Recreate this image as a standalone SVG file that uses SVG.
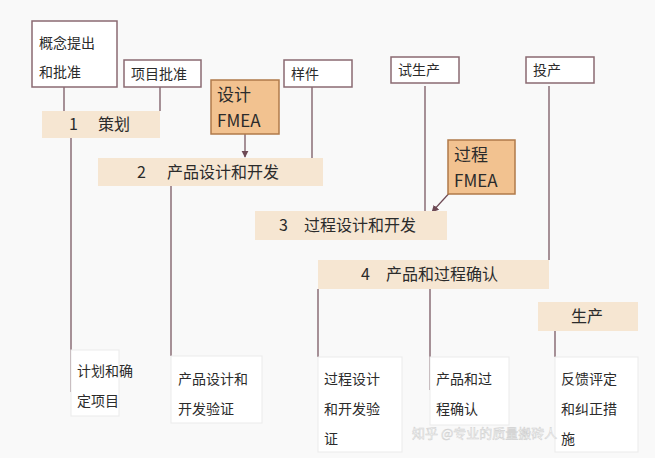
<svg xmlns="http://www.w3.org/2000/svg" width="655" height="458" viewBox="0 0 655 458">
<defs>
<style>
text{font-family:"Noto Sans CJK SC","Liberation Sans",sans-serif;fill:#2b2b2b}
.top{fill:#fff;stroke:#8a6a72;stroke-width:1.5}
.bar{fill:#f6e6d2}
.fm{fill:#f2c290;stroke:#b07a4a;stroke-width:1.5}
.bot{fill:#fff;stroke:#ebebeb;stroke-width:1}
.c{stroke:#6e4a55;stroke-width:1.2;fill:none}
.s{font-size:14px}
.b{font-size:16px}
.f{font-size:17px}
</style>
<marker id="ah" viewBox="0 0 10 10" refX="9" refY="5" markerWidth="6" markerHeight="6" orient="auto"><path d="M0,0L10,5L0,10z" fill="#6e4a55"/></marker>
</defs>
<rect width="655" height="458" fill="#f9f9f9"/>
<g id="connectors">
<line class="c" x1="64" y1="87" x2="64" y2="111"/>
<line class="c" x1="160" y1="87" x2="160" y2="111"/>
<line class="c" x1="312" y1="87" x2="312" y2="158"/>
<line class="c" x1="245" y1="134" x2="245" y2="157" marker-end="url(#ah)"/>
<line class="c" x1="425" y1="86" x2="425" y2="211"/>
<line class="c" x1="549" y1="86" x2="549" y2="260"/>
<line class="c" x1="453" y1="189" x2="432" y2="212" marker-end="url(#ah)"/>
<line class="c" x1="71" y1="138" x2="71" y2="392"/>
<line class="c" x1="171" y1="186" x2="171" y2="356"/>
<line class="c" x1="318" y1="289" x2="318" y2="357"/>
<line class="c" x1="430" y1="289" x2="430" y2="390"/>
<line class="c" x1="555" y1="331" x2="555" y2="357"/>
</g>
<g id="n-concept"><rect class="top" x="32" y="21" width="85" height="66"/><text class="s" x="39" y="48">概念提出</text><text class="s" x="39" y="77">和批准</text></g>
<g id="n-approve"><rect class="top" x="124" y="60" width="77" height="27"/><text class="s" x="131" y="79">项目批准</text></g>
<g id="n-sample"><rect class="top" x="284" y="60" width="68" height="27"/><text class="s" x="291" y="79">样件</text></g>
<g id="n-trial"><rect class="top" x="391" y="57" width="68" height="26"/><text class="s" x="398" y="75">试生产</text></g>
<g id="n-launch"><rect class="top" x="526" y="57" width="68" height="26"/><text class="s" x="533" y="75">投产</text></g>
<g id="n-dfmea"><rect class="fm" x="211" y="80" width="68" height="54"/><text class="f" x="217" y="101">设计</text><text class="f" x="217" y="127">FMEA</text></g>
<g id="n-pfmea"><rect class="fm" x="448" y="140" width="67" height="54"/><text class="f" x="454" y="161">过程</text><text class="f" x="454" y="187">FMEA</text></g>
<g id="n-bar1"><rect class="bar" x="42" y="111" width="118" height="27"/><text class="b" x="69" y="130">1</text><text class="b" x="98" y="130">策划</text></g>
<g id="n-bar2"><rect class="bar" x="98" y="158" width="225" height="28"/><text class="b" x="137" y="178">2</text><text class="b" x="167" y="178">产品设计和开发</text></g>
<g id="n-bar3"><rect class="bar" x="255" y="211" width="192" height="29"/><text class="b" x="279" y="231">3</text><text class="b" x="304" y="231">过程设计和开发</text></g>
<g id="n-bar4"><rect class="bar" x="318" y="260" width="231" height="29"/><text class="b" x="361" y="280">4</text><text class="b" x="386" y="280">产品和过程确认</text></g>
<g id="n-prod"><rect class="bar" x="538" y="302" width="100" height="29"/><text class="b" x="571" y="322">生产</text></g>
<g id="n-b1"><rect class="bot" x="71" y="350" width="48" height="66"/><text class="s" x="77" y="376">计划和确</text><text class="s" x="77" y="406">定项目</text></g>
<g id="n-b2"><rect class="bot" x="171" y="356" width="91" height="67"/><text class="s" x="178" y="384">产品设计和</text><text class="s" x="178" y="414">开发验证</text></g>
<g id="n-b3"><rect class="bot" x="318" y="357" width="84" height="95"/><text class="s" x="324" y="384">过程设计</text><text class="s" x="324" y="414">和开发验</text><text class="s" x="324" y="444">证</text></g>
<g id="n-b4"><rect class="bot" x="430" y="357" width="79" height="68"/><text class="s" x="436" y="384">产品和过</text><text class="s" x="436" y="414">程确认</text></g>
<g id="n-b5"><rect class="bot" x="555" y="357" width="83" height="95"/><text class="s" x="561" y="384">反馈评定</text><text class="s" x="561" y="414">和纠正措</text><text class="s" x="561" y="444">施</text></g>
<text x="412" y="438" font-size="13" style="fill:#ffffff;fill-opacity:0.75;stroke:#cfcfcf;stroke-width:0.5">知乎 @专业的质量搬砖人</text>
</svg>
